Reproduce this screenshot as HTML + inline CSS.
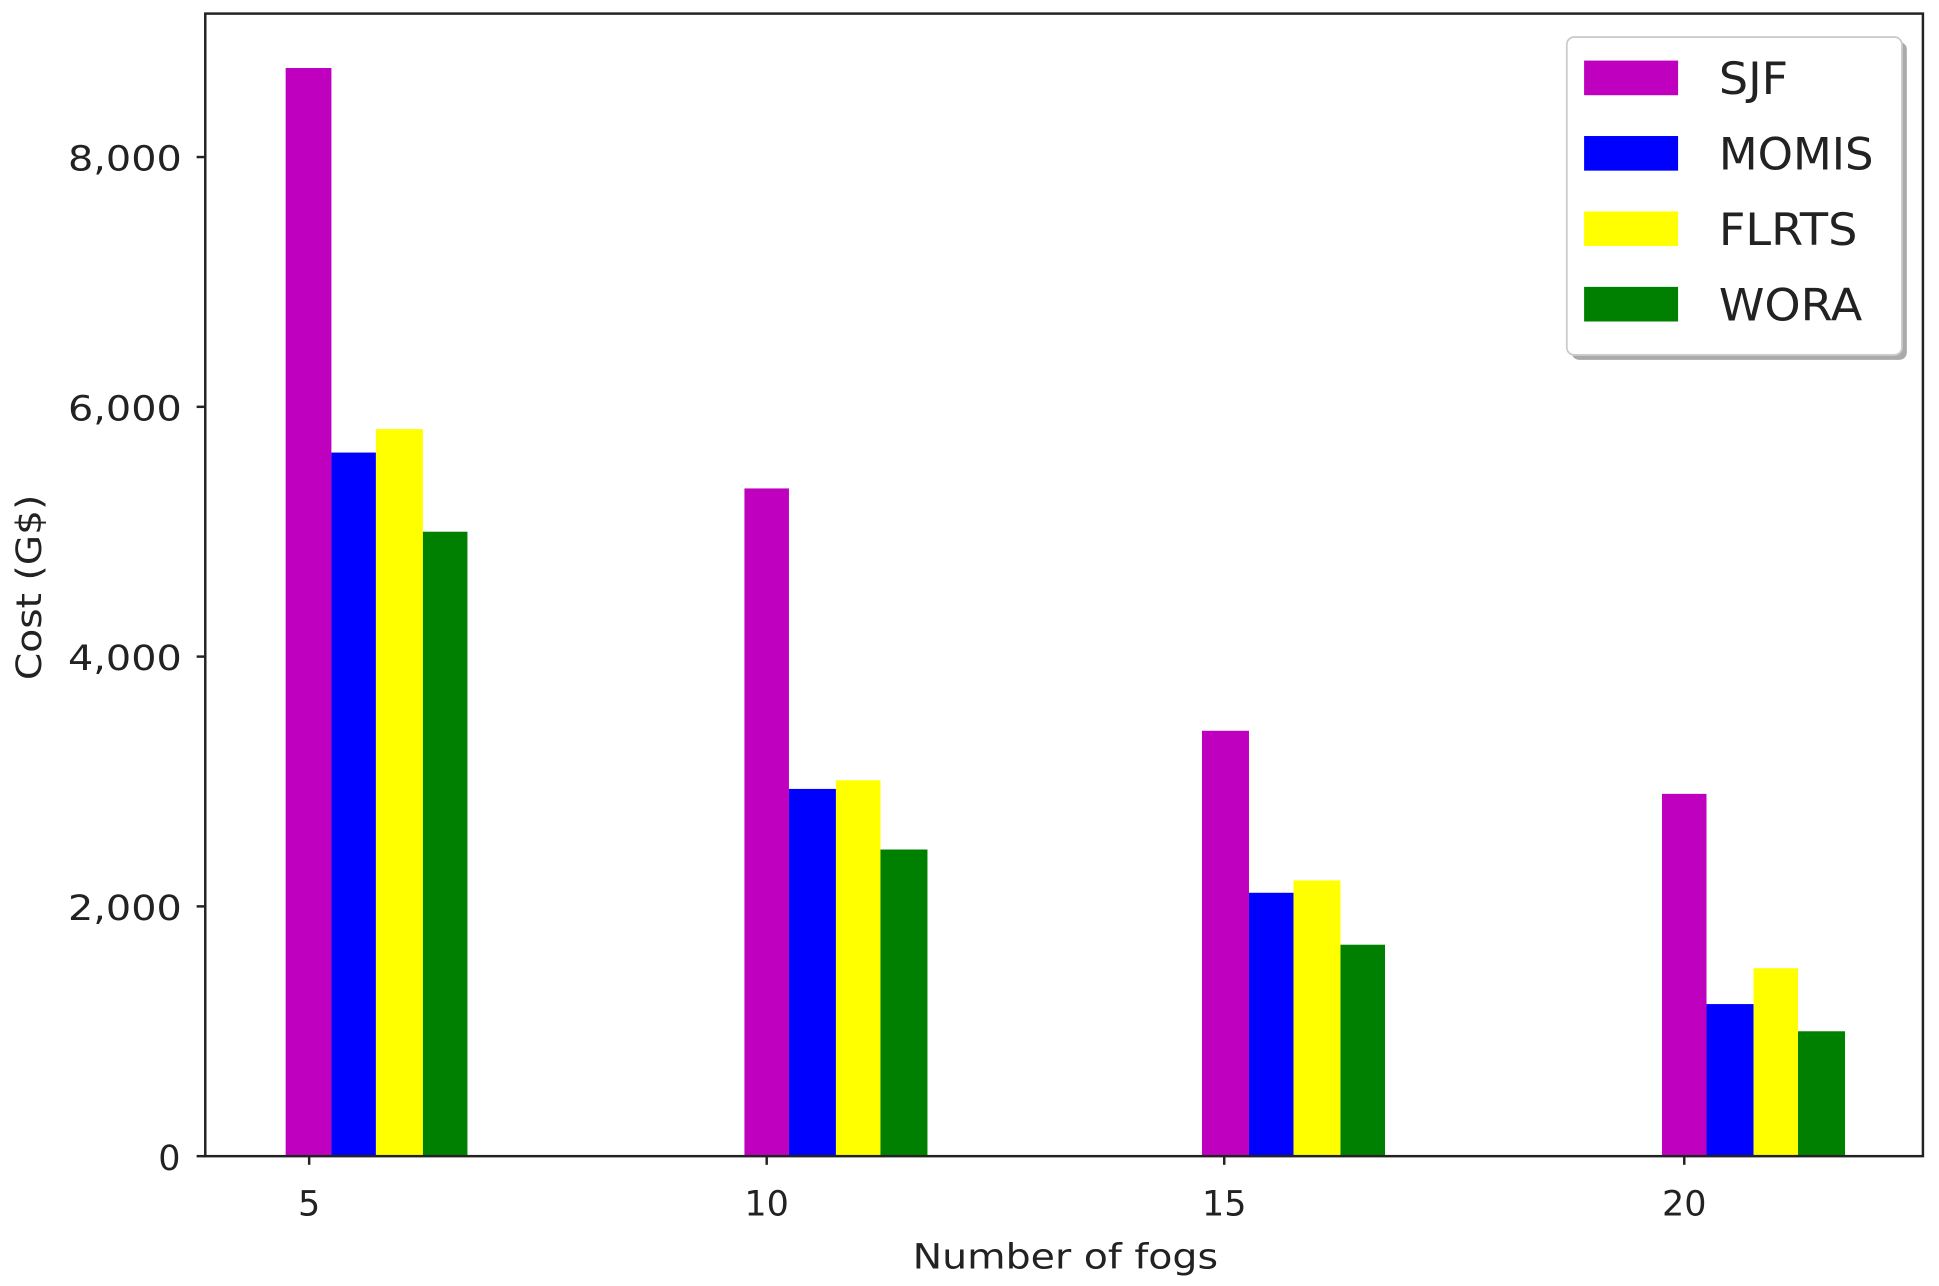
<!DOCTYPE html>
<html><head><meta charset="utf-8"><style>html,body{margin:0;padding:0;background:#fff}svg{display:block}</style></head>
<body>
<svg width="1939" height="1286" viewBox="0 0 1568 1040" preserveAspectRatio="none" xmlns="http://www.w3.org/2000/svg" font-family="'DejaVu Sans', 'Liberation Sans', sans-serif">
<rect width="1568" height="1040" fill="#fff"/>
<g>
<rect x="231" y="55" width="37" height="880" fill="#bf00bf"/>
<rect x="268" y="366" width="36" height="569" fill="#0000ff"/>
<rect x="304" y="347" width="38" height="588" fill="#ffff00"/>
<rect x="342" y="430" width="36" height="505" fill="#008000"/>
<rect x="602" y="395" width="36" height="540" fill="#bf00bf"/>
<rect x="638" y="638" width="38" height="297" fill="#0000ff"/>
<rect x="676" y="631" width="36" height="304" fill="#ffff00"/>
<rect x="712" y="687" width="38" height="248" fill="#008000"/>
<rect x="972" y="591" width="38" height="344" fill="#bf00bf"/>
<rect x="1010" y="722" width="36" height="213" fill="#0000ff"/>
<rect x="1046" y="712" width="38" height="223" fill="#ffff00"/>
<rect x="1084" y="764" width="36" height="171" fill="#008000"/>
<rect x="1344" y="642" width="36" height="293" fill="#bf00bf"/>
<rect x="1380" y="812" width="38" height="123" fill="#0000ff"/>
<rect x="1418" y="783" width="36" height="152" fill="#ffff00"/>
<rect x="1454" y="834" width="38" height="101" fill="#008000"/>
</g>
<rect x="166" y="11" width="1389" height="924" fill="none" stroke="#222" stroke-width="2"/>
<g stroke="#222" stroke-width="2">
<line x1="159" y1="935" x2="166" y2="935"/><line x1="159" y1="733" x2="166" y2="733"/>
<line x1="159" y1="531" x2="166" y2="531"/><line x1="159" y1="329" x2="166" y2="329"/>
<line x1="159" y1="127" x2="166" y2="127"/>
<line x1="250" y1="935" x2="250" y2="942"/><line x1="620" y1="935" x2="620" y2="942"/>
<line x1="990" y1="935" x2="990" y2="942"/><line x1="1362" y1="935" x2="1362" y2="942"/>
</g>
<g font-size="28" fill="#222" lengthAdjust="spacingAndGlyphs">
<text x="128" y="946" textLength="18" lengthAdjust="spacingAndGlyphs">0</text>
<text x="55" y="744" textLength="92" lengthAdjust="spacingAndGlyphs">2,000</text>
<text x="55" y="542" textLength="92" lengthAdjust="spacingAndGlyphs">4,000</text>
<text x="55" y="340" textLength="92" lengthAdjust="spacingAndGlyphs">6,000</text>
<text x="55" y="138" textLength="92" lengthAdjust="spacingAndGlyphs">8,000</text>
</g>
<g font-size="28" fill="#222">
<text x="241" y="983" textLength="18" lengthAdjust="spacingAndGlyphs">5</text>
<text x="602" y="983" textLength="36" lengthAdjust="spacingAndGlyphs">10</text>
<text x="972" y="983" textLength="36" lengthAdjust="spacingAndGlyphs">15</text>
<text x="1344" y="983" textLength="36" lengthAdjust="spacingAndGlyphs">20</text>
<text x="738" y="1026" textLength="247" lengthAdjust="spacingAndGlyphs">Number of fogs</text>
<text transform="translate(33,550) rotate(-90)" textLength="150" lengthAdjust="spacingAndGlyphs">Cost (G$)</text>
</g>
<rect x="1271" y="34" width="271" height="257" rx="6" fill="#aaa"/>
<rect x="1267" y="30" width="271" height="257" rx="6" fill="#fff" stroke="#ccc" stroke-width="1.5"/>
<rect x="1281" y="49" width="76" height="28" fill="#bf00bf"/>
<rect x="1281" y="110" width="76" height="28" fill="#0000ff"/>
<rect x="1281" y="171" width="76" height="28" fill="#ffff00"/>
<rect x="1281" y="232" width="76" height="28" fill="#008000"/>
<g font-size="36" fill="#222">
<text x="1390" y="76" textLength="56" lengthAdjust="spacingAndGlyphs">SJF</text>
<text x="1390" y="137" textLength="125" lengthAdjust="spacingAndGlyphs">MOMIS</text>
<text x="1390" y="198" textLength="112" lengthAdjust="spacingAndGlyphs">FLRTS</text>
<text x="1390" y="259" textLength="116" lengthAdjust="spacingAndGlyphs">WORA</text>
</g>
</svg>
</body></html>
